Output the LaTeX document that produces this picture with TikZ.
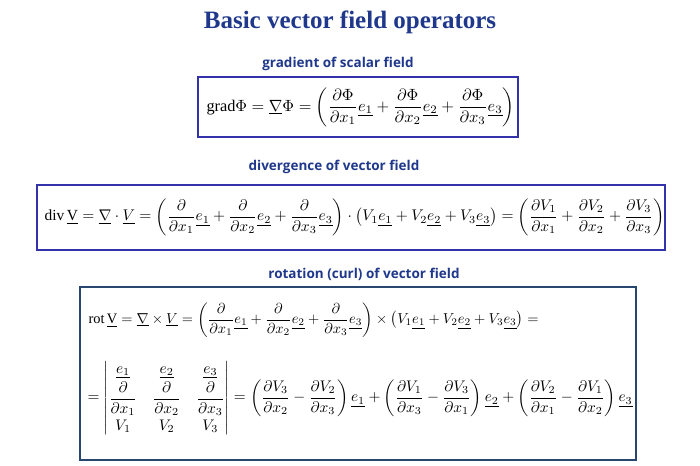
\documentclass[tikz,border=0pt]{standalone}
\usepackage{amsmath}
\usepackage{fontspec}
\setmainfont{Liberation Serif}
\newfontfamily\subfont{Open Sans}
\usepackage{graphicx}
\definecolor{titleblue}{RGB}{31,56,140}
\definecolor{boxblue}{RGB}{50,50,170}
\definecolor{boxgray}{RGB}{40,70,110}
\newcommand{\ue}[1]{\underline{e_{#1}}}
\newcommand{\pd}[2]{\dfrac{\partial #1}{\partial #2}}
\begin{document}
\begin{tikzpicture}[x=1pt,y=-1pt,
  subtitle/.style={font=\subfont\bfseries\fontsize{13.5}{16}\selectfont,text=titleblue}]
\useasboundingbox[fill=white] (0,0) rectangle (700,465);
\node[font=\bfseries\fontsize{25}{28}\selectfont,text=titleblue] (title) at (350,22) {Basic vector field operators};
\node[subtitle] (s1) at (338,64) {gradient of scalar field};
\node[subtitle] (s2) at (334,167) {divergence of vector field};
\node[subtitle] (s3) at (364,274) {rotation (curl) of vector field};
\draw[boxblue,line width=1.3pt] (198,77) rectangle (518,137);
\draw[boxblue,line width=1.3pt] (37,185) rectangle (665,250);
\draw[boxgray,line width=1.3pt] (80,287) rectangle (636,460);
\node[anchor=west] (e1) at (203,107) {\resizebox{308pt}{!}{$\mathrm{grad}\Phi=\underline{\nabla}\Phi=\left(\pd{\Phi}{x_1}\ue1+\pd{\Phi}{x_2}\ue2+\pd{\Phi}{x_3}\ue3\right)$}};
\node[anchor=west] (e2) at (41,217) {\resizebox{620pt}{!}{$\mathrm{div}\,\underline{\mathrm{V}}=\underline{\nabla}\cdot\underline{V}=\left(\pd{}{x_1}\ue1+\pd{}{x_2}\ue2+\pd{}{x_3}\ue3\right)\cdot\left(V_1\ue1+V_2\ue2+V_3\ue3\right)=\left(\pd{V_1}{x_1}+\pd{V_2}{x_2}+\pd{V_3}{x_3}\right)$}};
\node[anchor=west] (e3) at (85,320) {\resizebox{450pt}{!}{$\mathrm{rot}\,\underline{\mathrm{V}}=\underline{\nabla}\times\underline{V}=\left(\pd{}{x_1}\ue1+\pd{}{x_2}\ue2+\pd{}{x_3}\ue3\right)\times\left(V_1\ue1+V_2\ue2+V_3\ue3\right)=$}};
\node[anchor=west] (e4) at (84,398) {\resizebox{545pt}{!}{$=\left|\begin{matrix}\ue1 & \ue2 & \ue3\\[2pt] \pd{}{x_1} & \pd{}{x_2} & \pd{}{x_3}\\[6pt] V_1 & V_2 & V_3\end{matrix}\right|=\left(\pd{V_3}{x_2}-\pd{V_2}{x_3}\right)\ue1+\left(\pd{V_1}{x_3}-\pd{V_3}{x_1}\right)\ue2+\left(\pd{V_2}{x_1}-\pd{V_1}{x_2}\right)\ue3$}};
\end{tikzpicture}
\end{document}
